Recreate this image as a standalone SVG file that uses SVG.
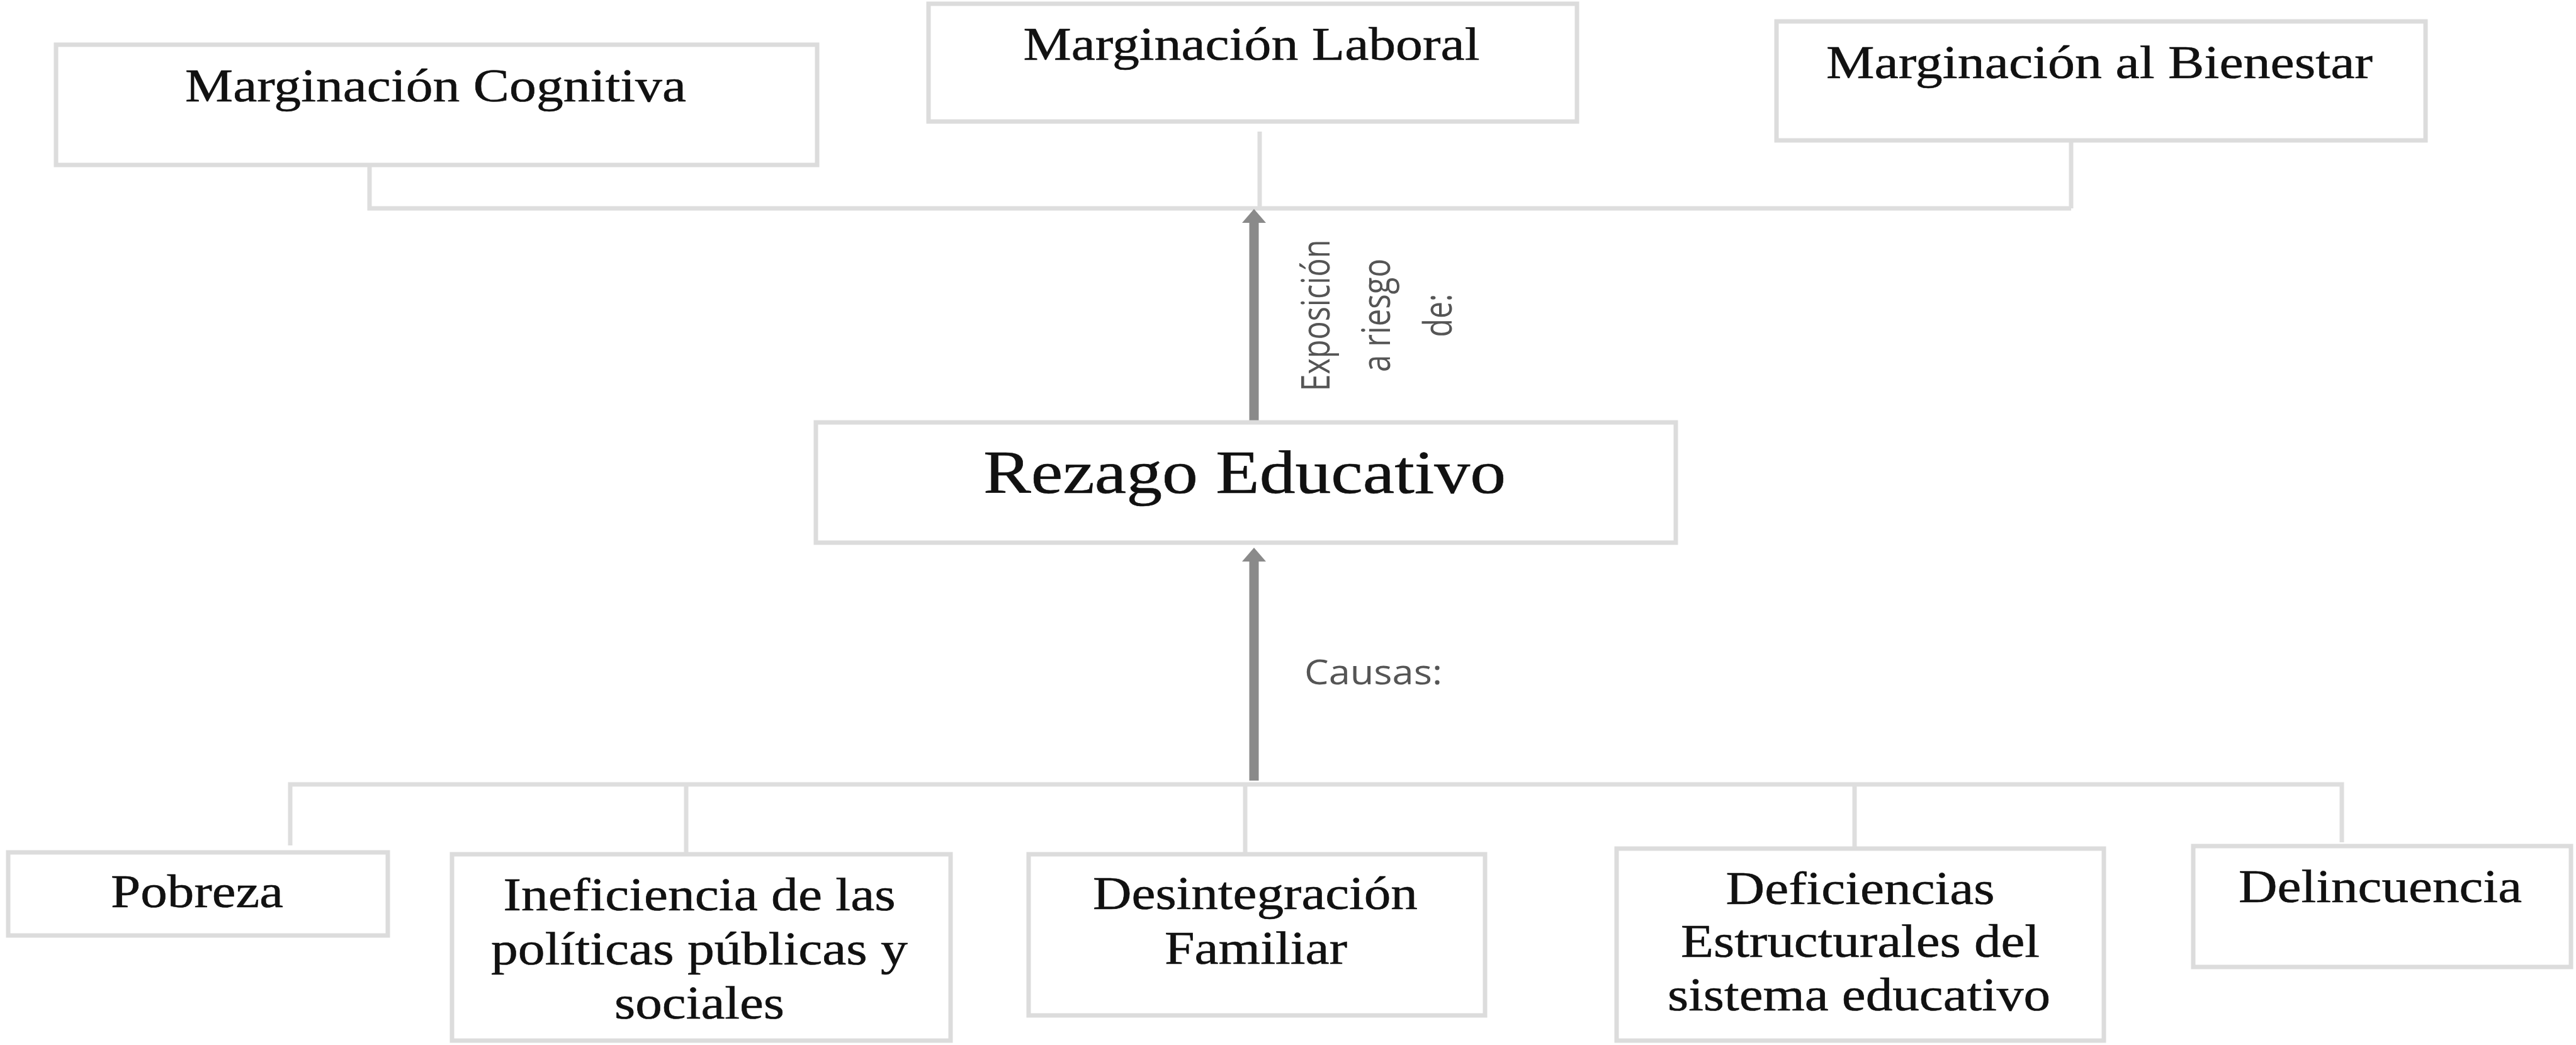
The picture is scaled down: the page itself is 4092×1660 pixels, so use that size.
<svg xmlns="http://www.w3.org/2000/svg" width="4092" height="1660" viewBox="0 0 4092 1660">
<style>
.box{fill:#ffffff;stroke:#dcdcdc;stroke-width:7}
.t{font-family:"Liberation Serif","Times New Roman",serif;font-size:74px;fill:#111111;text-anchor:middle;stroke:#111111;stroke-width:0.6}
.big{font-size:97px}
.s{font-family:"Open Sans","Liberation Sans",sans-serif;font-size:54px;fill:#555555}
.r{font-size:62px}
.conn{fill:none;stroke:#dedede;stroke-width:7}
.arrow{stroke:#8a8a8a;stroke-width:15;fill:none;marker-end:url(#ah)}
</style>
<defs>
<marker id="ah" markerUnits="userSpaceOnUse" viewBox="0 0 22 38" markerWidth="22" markerHeight="38" refX="0" refY="19" orient="auto">
<path d="M0,0 L22,19 L0,38 z" fill="#8a8a8a"/>
</marker>
</defs>
<rect width="4092" height="1660" fill="#ffffff"/>
<g id="connectors">
<path class="conn" d="M587 262 V331 H3290"/>
<path class="conn" d="M2001 209 V331"/>
<path class="conn" d="M3290 223 V331"/>
<path class="conn" d="M461 1343 V1246 H3720 V1338"/>
<path class="conn" d="M1090 1246 V1357"/>
<path class="conn" d="M1978 1246 V1357"/>
<path class="conn" d="M2946 1246 V1348"/>
<line class="arrow" x1="1992" y1="668" x2="1992" y2="354"/>
<line class="arrow" x1="1992" y1="1240" x2="1992" y2="892"/>
<g id="label-exposicion" transform="translate(0,501) rotate(-90)">
<text class="s r" x="0" y="2112" text-anchor="middle" textLength="241" lengthAdjust="spacingAndGlyphs">Exposición</text>
<text class="s r" x="0" y="2208" text-anchor="middle" textLength="180" lengthAdjust="spacingAndGlyphs">a riesgo</text>
<text class="s r" x="0" y="2306" text-anchor="middle" textLength="69" lengthAdjust="spacingAndGlyphs">de:</text>
</g>
<text id="label-causas" class="s" x="2072" y="1087" textLength="219" lengthAdjust="spacingAndGlyphs">Causas:</text>
</g>
<g id="cognitiva">
<rect class="box" x="89" y="71" width="1209" height="191"/>
<text class="t" x="692" y="161" textLength="796" lengthAdjust="spacingAndGlyphs">Marginación Cognitiva</text>
</g>
<g id="laboral">
<rect class="box" x="1475" y="6" width="1030" height="187"/>
<text class="t" x="1988" y="95" textLength="725" lengthAdjust="spacingAndGlyphs">Marginación Laboral</text>
</g>
<g id="bienestar">
<rect class="box" x="2822" y="34" width="1031" height="189"/>
<text class="t" x="3335" y="124" textLength="868" lengthAdjust="spacingAndGlyphs">Marginación al Bienestar</text>
</g>
<g id="rezago">
<rect class="box" x="1296" y="671" width="1366" height="191"/>
<text class="t big" x="1977" y="783" textLength="830" lengthAdjust="spacingAndGlyphs">Rezago Educativo</text>
</g>
<g id="pobreza">
<rect class="box" x="13" y="1354" width="603" height="132"/>
<text class="t" x="313" y="1441" textLength="274" lengthAdjust="spacingAndGlyphs">Pobreza</text>
</g>
<g id="ineficiencia">
<rect class="box" x="718" y="1357" width="792" height="296"/>
<text class="t" x="1111" y="1446" textLength="623" lengthAdjust="spacingAndGlyphs">Ineficiencia de las</text>
<text class="t" x="1111" y="1532" textLength="662" lengthAdjust="spacingAndGlyphs">políticas públicas y</text>
<text class="t" x="1111" y="1618" textLength="270" lengthAdjust="spacingAndGlyphs">sociales</text>
</g>
<g id="desintegracion">
<rect class="box" x="1634" y="1357" width="725" height="256"/>
<text class="t" x="1994" y="1444" textLength="516" lengthAdjust="spacingAndGlyphs">Desintegración</text>
<text class="t" x="1995" y="1531" textLength="290" lengthAdjust="spacingAndGlyphs">Familiar</text>
</g>
<g id="deficiencias">
<rect class="box" x="2568" y="1348" width="774" height="305"/>
<text class="t" x="2955" y="1436" textLength="427" lengthAdjust="spacingAndGlyphs">Deficiencias</text>
<text class="t" x="2955" y="1520" textLength="570" lengthAdjust="spacingAndGlyphs">Estructurales del</text>
<text class="t" x="2953" y="1605" textLength="608" lengthAdjust="spacingAndGlyphs">sistema educativo</text>
</g>
<g id="delincuencia">
<rect class="box" x="3484" y="1344" width="600" height="192"/>
<text class="t" x="3781" y="1433" textLength="450" lengthAdjust="spacingAndGlyphs">Delincuencia</text>
</g>
</svg>
